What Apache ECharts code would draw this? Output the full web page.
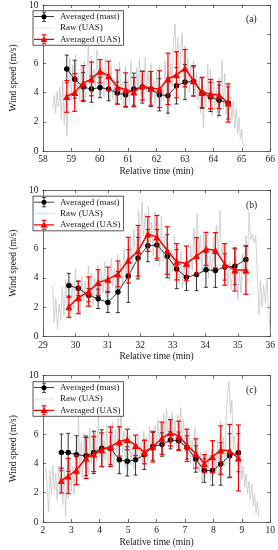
<!DOCTYPE html>
<html><head><meta charset="utf-8">
<script src="https://cdn.jsdelivr.net/npm/echarts@6/dist/echarts.min.js"></script>
<style>html,body{margin:0;padding:0;background:#fff}#c{width:278px;height:550px}</style>
</head><body><div id="c"></div>
<script>
// ---------------- DATA ----------------
const legendNames = ['Averaged (mast)', 'Raw (UAS)', 'Averaged (UAS)'];
const panelLabels = ['(a)', '(b)', '(c)'];
const xRangeA = [58, 66], xRangeB = [29, 36], xRangeC = [2, 10];
const yRange = [0, 10];
const xTitle = 'Relative time (min)';
const yTitle = 'Wind speed (m/s)';

// Panel (a)
const timeA = [58.84, 59.12, 59.42, 59.71, 60.01, 60.31, 60.62, 60.91, 61.2, 61.5, 61.8, 62.1, 62.4, 62.7, 63.0, 63.3, 63.6, 63.9, 64.2, 64.52];
const mastA = [5.62, 4.92, 4.38, 4.24, 4.35, 4.24, 3.97, 3.85, 4.24, 4.38, 4.24, 3.85, 3.79, 4.47, 4.72, 4.76, 3.97, 3.70, 3.47, 3.29];
const mastErrA = [0.95, 1.3, 1.0, 0.9, 0.7, 0.8, 0.75, 0.85, 1.1, 1.1, 1.2, 1.1, 1.2, 1.25, 1.2, 1.0, 1.05, 1.0, 1.05, 1.1];
const uasA = [3.74, 4.01, 4.65, 4.94, 5.46, 5.15, 4.38, 4.2, 4.04, 4.47, 4.29, 4.24, 4.94, 5.22, 5.67, 4.81, 4.01, 3.9, 3.83, 3.29];
const uasErrA = [1.09, 1.29, 1.2, 1.16, 0.8, 1.0, 1.17, 1.15, 1.0, 0.98, 1.16, 1.26, 1.76, 1.58, 1.28, 1.04, 1.04, 1.0, 0.92, 1.31];
const rawStartA = 58.35;
const rawA = [2.9,3.8,2.6,4.1,3.0,4.4,2.2,4.8,1.8,3.9,1.0,4.5,6.4,3.6,5.9,3.2,6.6,3.8,5.4,3.4,
  5.8,4.0,6.1,3.6,5.3,7.2,4.2,6.5,3.9,5.6,4.4,6.9,4.6,6.2,4.0,5.8,3.7,6.4,4.5,5.5,
  3.4,5.9,3.6,4.9,3.2,5.6,3.8,6.1,3.5,4.7,3.1,5.8,3.6,4.9,3.3,6.2,3.9,5.0,3.4,5.7,
  4.1,6.3,3.8,5.2,3.5,6.4,4.0,5.5,3.3,6.0,3.7,4.9,3.2,5.4,3.6,5.9,3.1,4.6,3.5,6.2,
  3.9,5.3,3.4,6.0,4.4,7.6,8.7,5.2,7.8,4.6,6.9,8.1,5.0,7.2,4.3,6.4,4.0,5.8,4.5,6.2,
  3.9,5.4,3.5,5.0,2.6,4.6,1.6,4.2,3.0,5.9,3.3,5.6,2.4,4.9,2.8,4.4,2.2,5.0,3.1,6.2,
  2.9,5.3,2.5,4.1,3.2,3.8,2.1,3.4,1.6,2.9,1.2,2.3,0.8,1.5,0.2];

// Panel (b)
const timeB = [29.80, 30.09, 30.41, 30.70, 31.0, 31.31, 31.63, 31.93, 32.23, 32.51, 32.83, 33.12, 33.42, 33.73, 34.02, 34.31, 34.6, 34.91, 35.25];
const mastB = [3.48, 3.29, 2.82, 2.57, 2.32, 3.03, 4.13, 5.35, 6.2, 6.25, 5.48, 4.6, 4.04, 4.23, 4.56, 4.5, 4.75, 4.79, 5.26];
const mastErrB = [0.83, 0.5, 0.45, 0.66, 0.68, 1.4, 1.8, 1.42, 1.1, 1.05, 1.47, 1.33, 0.9, 1.1, 1.2, 1.15, 0.9, 1.26, 0.9];
const uasB = [2.03, 2.66, 3.07, 3.68, 3.9, 4.27, 5.21, 5.85, 7.0, 6.8, 5.87, 5.1, 4.99, 5.51, 5.98, 5.89, 4.92, 4.54, 4.54];
const uasErrB = [0.72, 1.1, 1.0, 0.88, 0.84, 0.88, 1.56, 1.73, 1.19, 1.46, 1.62, 1.24, 1.19, 1.24, 1.13, 1.2, 1.42, 1.44, 1.66];
const rawStartB = 29.30;
const rawB = [3.5,1.0,2.6,0.5,2.2,1.1,3.4,1.4,3.9,1.8,2.9,1.2,3.6,1.9,4.6,2.3,3.7,1.6,4.1,2.4,
  3.8,2.0,4.8,2.6,4.3,2.2,4.0,2.8,4.9,2.5,4.4,3.0,5.1,2.7,4.2,3.1,5.3,3.4,4.6,3.2,
  5.6,3.7,5.0,3.5,6.0,4.0,5.4,4.3,6.7,4.6,7.3,5.2,6.5,8.6,6.2,9.2,6.8,8.4,5.9,8.9,
  6.3,7.8,5.5,8.5,6.0,7.4,4.8,8.2,5.1,6.9,4.2,6.4,3.8,5.9,4.4,6.8,3.9,5.4,3.6,5.8,
  3.3,4.9,3.5,5.3,4.1,6.2,4.5,7.4,5.0,8.4,5.6,6.9,4.3,7.0,4.8,6.3,4.0,5.6,4.4,6.8,
  4.9,7.6,5.5,8.6,5.2,6.4,3.9,5.8,3.5,5.1,3.2,4.8,3.6,5.5,2.5,4.4,3.0,5.7,4.2,6.9,
  5.3,8.5,6.6,7.0,6.4,6.9,4.5,1.5,3.8,2.0,3.5,2.3,4.0,1.8,0.2];

// Panel (c)
const timeC = [2.65, 2.89, 3.18, 3.52, 3.79, 4.07, 4.38, 4.69, 4.97, 5.26, 5.57, 5.87, 6.19, 6.49, 6.78, 7.07, 7.38, 7.68, 7.97, 8.26, 8.57, 8.88];
const mastC = [4.75, 4.75, 4.59, 4.52, 4.75, 5.04, 5.02, 4.25, 4.14, 4.25, 4.59, 5.16, 5.29, 5.59, 5.54, 5.09, 4.3, 3.51, 3.51, 3.96, 4.52, 4.73];
const mastErrC = [1.25, 1.3, 1.3, 1.35, 1.45, 1.25, 1.1, 0.95, 1.0, 1.05, 1.0, 0.95, 0.8, 0.6, 0.6, 0.8, 0.9, 0.8, 1.0, 1.45, 1.5, 1.3];
const uasC = [2.83, 3.14, 3.55, 4.37, 4.64, 4.93, 5.14, 5.5, 5.63, 5.23, 4.77, 5.14, 5.72, 6.09, 5.88, 5.23, 4.68, 4.0, 4.46, 4.91, 4.86, 4.37];
const uasErrC = [0.85, 1.2, 1.0, 1.4, 1.2, 1.15, 1.35, 1.0, 0.7, 0.7, 0.8, 1.05, 1.1, 0.9, 1.0, 1.1, 1.0, 0.6, 1.1, 1.65, 1.8, 2.25];
const rawStartC = 2.10;
const rawC = [3.7,2.4,0.7,3.5,1.9,3.9,2.2,3.3,1.5,3.8,2.0,4.3,1.2,3.6,0.4,2.9,1.6,4.4,2.1,3.8,
  1.9,4.9,2.8,7.2,3.4,5.5,3.0,6.1,3.6,5.2,3.2,6.4,3.9,5.8,3.5,6.2,4.1,7.3,4.4,6.0,
  3.7,5.6,4.2,6.6,3.9,5.9,4.5,6.8,4.0,6.3,4.6,7.1,5.0,8.0,4.7,6.2,3.8,5.4,3.5,5.9,
  3.9,5.1,3.6,5.6,4.1,6.0,4.3,5.5,4.0,6.2,4.5,5.8,4.2,6.5,4.8,6.1,5.0,6.6,5.2,7.0,
  5.4,6.8,5.0,7.4,5.6,7.7,5.3,7.2,5.8,7.5,5.5,6.9,5.1,7.3,5.7,7.8,5.2,7.0,4.8,6.4,
  4.5,6.2,4.0,5.6,3.6,6.5,3.9,5.3,3.4,4.8,2.6,4.5,3.0,4.9,3.3,4.6,2.8,5.0,3.1,4.4,
  3.5,5.6,3.2,6.9,4.0,5.8,3.8,7.2,8.8,9.6,7.4,8.3,5.0,5.9,4.1,5.4,3.6,4.8,2.9,3.8,
  2.4,3.3,1.9,2.8,1.5,2.6,1.1,1.9,0.6,1.4,0.3];
const RAW_STEP = 0.05;

// ---------------- CHART ----------------
const FONT = 'Liberation Serif';
const TXT = '#1a1a1a';
const AX = '#444';
const RED = '#ff0000';
const GRAY = '#c6c6c6';
const FS = 9.5;

const panels = [
  {xr: xRangeA, t: timeA, m: mastA, me: mastErrA, u: uasA, ue: uasErrA, raw: rawA, r0: rawStartA},
  {xr: xRangeB, t: timeB, m: mastB, me: mastErrB, u: uasB, ue: uasErrB, raw: rawB, r0: rawStartB},
  {xr: xRangeC, t: timeC, m: mastC, me: mastErrC, u: uasC, ue: uasErrC, raw: rawC, r0: rawStartC}
];
const gridTops = [4.5, 190, 375.5];
const GL = 27.3, GW = 245, GH = 146.5;

function errRender(color, lw, cap) {
  return function (params, api) {
    const x = api.value(0), y = api.value(1), e = api.value(2);
    const p1 = api.coord([x, y + e]), p2 = api.coord([x, y - e]);
    const h = cap / 2;
    const st = {stroke: color, lineWidth: lw};
    return {type: 'group', children: [
      {type: 'line', shape: {x1: p1[0], y1: p1[1], x2: p2[0], y2: p2[1]}, style: st},
      {type: 'line', shape: {x1: p1[0] - h, y1: p1[1], x2: p1[0] + h, y2: p1[1]}, style: st},
      {type: 'line', shape: {x1: p2[0] - h, y1: p2[1], x2: p2[0] + h, y2: p2[1]}, style: st}
    ]};
  };
}

const iconMast = 'path://M0 10.2H44V11.8H0Z M21 0H23V22H21Z M18 0H26V1.8H18Z M18 20.2H26V22H18Z M16.5 11A5.5 5.5 0 1 1 27.5 11A5.5 5.5 0 1 1 16.5 11Z';
const iconRaw = 'path://M0 10.2H44V11.8H0Z M0 0H0.01V0.01H0Z M0 21.99H0.01V22H0Z';
const iconUas = 'path://M0 9.7H44V12.3H0Z M20.8 0H23.2V22H20.8Z M17 0H27V2.4H17Z M17 19.6H27V22H17Z M14.5 17L22 4L29.5 17Z';

const grid = [], xAxis = [], yAxis = [], series = [], legend = [], title = [];
panels.forEach((p, i) => {
  const top = gridTops[i];
  grid.push({left: GL, top: top, width: GW, height: GH});
  const xBase = {gridIndex: i, type: 'value', min: p.xr[0], max: p.xr[1], interval: 1,
    splitLine: {show: false},
    axisLine: {show: true, onZero: false, lineStyle: {color: AX, width: 0.8}},
    axisTick: {show: true, inside: true, length: 3, lineStyle: {color: AX, width: 0.8}}};
  xAxis.push(Object.assign({}, xBase, {position: 'bottom',
    name: xTitle, nameLocation: 'middle', nameGap: 15,
    nameTextStyle: {fontFamily: FONT, fontSize: FS, color: TXT},
    axisLabel: {fontFamily: FONT, fontSize: FS, color: TXT, margin: 3.5}}));
  xAxis.push(Object.assign({}, xBase, {position: 'top', axisLabel: {show: false}}));
  const yBase = {gridIndex: i, type: 'value', min: yRange[0], max: yRange[1], interval: 2,
    splitLine: {show: false},
    axisLine: {show: true, onZero: false, lineStyle: {color: AX, width: 0.8}},
    axisTick: {show: true, inside: true, length: 3, lineStyle: {color: AX, width: 0.8}}};
  yAxis.push(Object.assign({}, yBase, {position: 'left',
    name: yTitle, nameLocation: 'middle', nameGap: 13,
    nameTextStyle: {fontFamily: FONT, fontSize: FS, color: TXT},
    axisLabel: {fontFamily: FONT, fontSize: FS, color: TXT, margin: 4.5}}));
  yAxis.push(Object.assign({}, yBase, {position: 'right', axisLabel: {show: false}}));
  const xi = 2 * i, yi = 2 * i;
  const rawData = p.raw.map((v, k) => [+(p.r0 + k * RAW_STEP).toFixed(3), v]);
  series.push({type: 'line', name: legendNames[1], xAxisIndex: xi, yAxisIndex: yi, data: rawData,
    showSymbol: false, symbol: 'none', color: GRAY, lineStyle: {color: GRAY, width: 0.8}, z: 1, silent: true});
  series.push({type: 'custom', name: 'mastErr' + i, xAxisIndex: xi, yAxisIndex: yi,
    data: p.t.map((t, k) => [t, p.m[k], p.me[k]]), encode: {x: 0, y: 1},
    renderItem: errRender('#1e1e1e', 0.9, 4), z: 3, silent: true});
  series.push({type: 'line', name: legendNames[0], xAxisIndex: xi, yAxisIndex: yi,
    data: p.t.map((t, k) => [t, p.m[k]]), color: '#000',
    symbol: 'circle', symbolSize: 5.5, itemStyle: {color: '#000'},
    lineStyle: {color: '#000', width: 0.8}, z: 4, silent: true});
  series.push({type: 'custom', name: 'uasErr' + i, xAxisIndex: xi, yAxisIndex: yi,
    data: p.t.map((t, k) => [t, p.u[k], p.ue[k]]), encode: {x: 0, y: 1},
    renderItem: errRender(RED, 1.2, 5), z: 5, silent: true});
  series.push({type: 'line', name: legendNames[2], xAxisIndex: xi, yAxisIndex: yi,
    data: p.t.map((t, k) => [t, p.u[k]]), color: RED,
    symbol: 'triangle', symbolSize: 7, itemStyle: {color: RED},
    lineStyle: {color: RED, width: 1.5}, z: 6, silent: true});
  legend.push({orient: 'vertical', left: 33, top: top + 6.2,
    data: [{name: legendNames[0], icon: iconMast}, {name: legendNames[1], icon: iconRaw}, {name: legendNames[2], icon: iconUas}],
    itemWidth: 22, itemHeight: 10, itemGap: 1.3, padding: [1, 3, 1, 1],
    backgroundColor: '#fff', borderColor: '#2a2a2a', borderWidth: 0.8, borderRadius: 0,
    itemStyle: {borderWidth: 0}, selectedMode: false,
    textStyle: {fontFamily: FONT, fontSize: 9, color: TXT}});
  title.push({text: panelLabels[i], left: 246, top: top + 10,
    padding: 0, textStyle: {fontFamily: FONT, fontSize: FS, fontWeight: 'normal', color: TXT}});
});

const chart = echarts.init(document.getElementById('c'), null, {renderer: 'canvas'});
chart.setOption({animation: false, backgroundColor: '#fff', title, grid, xAxis, yAxis, series, legend});
</script></body></html>
